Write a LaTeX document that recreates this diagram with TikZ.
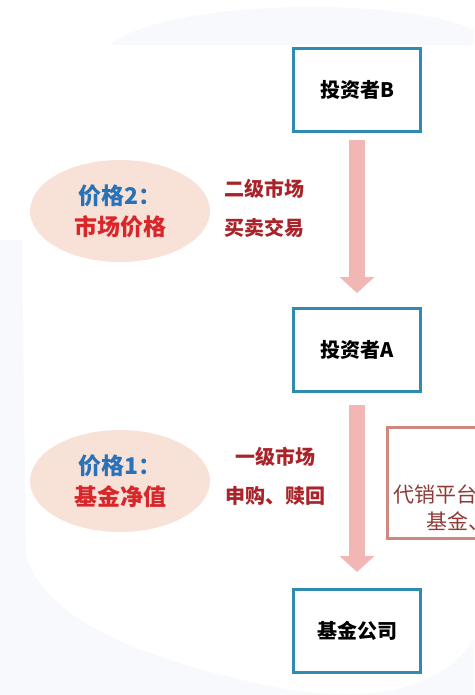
\documentclass[tikz,border=0pt]{standalone}
\usepackage{fontspec}
\setmainfont{Noto Sans CJK SC}
\usepackage{tikz}
\usetikzlibrary{shapes.geometric, arrows.meta, positioning}
\definecolor{boxblue}{HTML}{2F8CB0}
\definecolor{arrowpink}{HTML}{F2B6B4}
\definecolor{ovalfill}{HTML}{F8E2D8}
\definecolor{priceblue}{HTML}{2A72B8}
\definecolor{pricered}{HTML}{D8262B}
\definecolor{marketred}{HTML}{A8232A}
\definecolor{platline}{HTML}{D0877F}
\definecolor{plattext}{HTML}{8F3A37}
\definecolor{paper}{HTML}{F8F9FC}
\tikzstyle{party} = [rectangle, minimum width=127pt, minimum height=83pt, text centered, draw=boxblue, line width=3pt, fill=white, font=\fontsize{20}{24}\selectfont\bfseries]
\tikzstyle{price} = [ellipse, minimum width=180pt, minimum height=102pt, inner sep=0pt, fill=ovalfill, align=center, font=\fontsize{23}{31}\selectfont\bfseries]
\tikzstyle{market} = [align=center, text=marketred, font=\fontsize{20}{39}\selectfont\bfseries]
\tikzstyle{fatarrow} = [line width=16pt, draw=arrowpink, -{Triangle[length=16pt, width=34pt]}]

\begin{document}
\begin{tikzpicture}[x=1pt, y=-1pt]
\useasboundingbox (0,0) rectangle (474,695);
% paper edges
\fill[paper] (110,45) .. controls (160,0) and (400,-5) .. (474,30) -- (474,45) -- cycle;
\fill[paper] (0,240) -- (22,240) -- (26,555) .. controls (45,625) and (160,665) .. (290,690) .. controls (380,702) and (440,688) .. (474,640) -- (474,695) -- (0,695) -- cycle;

\node (investorB) [party] at (357,90) {投资者B};
\node (investorA) [party] at (357,350) {投资者A};
\node (company) [party] at (357,631) {基金公司};

\node (price2) [price] at (120,211) {\textcolor{priceblue}{价格2：}\\\textcolor{pricered}{市场价格}};
\node (price1) [price] at (120,481) {\textcolor{priceblue}{价格1：}\\\textcolor{pricered}{基金净值}};

\node (secondary) [market] at (264,208) {二级市场\\买卖交易};
\node (primary) [market] at (275,476) {一级市场\\申购、赎回};

\node (platform) [rectangle, draw=platline, line width=2.5pt, minimum width=110pt, minimum height=111pt, anchor=north west] at (386,426) {};
\node (platline1) [anchor=west, text=plattext, font=\fontsize{21}{24}\selectfont, inner sep=0pt] at (393,494) {代销平台};
\node (platline2) [anchor=west, text=plattext, font=\fontsize{21}{24}\selectfont, inner sep=0pt] at (426,521) {基金、};

\draw [fatarrow] ([yshift=-7pt]investorB.south) -- ([yshift=14pt]investorA.north);
\draw [fatarrow] ([yshift=-12pt]investorA.south) -- ([yshift=16pt]company.north);
\end{tikzpicture}
\end{document}
